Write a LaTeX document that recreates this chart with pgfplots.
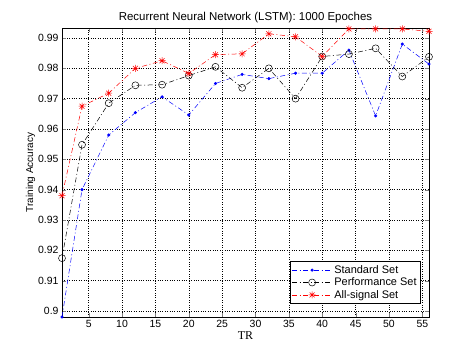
\documentclass[border=0pt]{standalone}
\usepackage{fontspec}
\setmainfont{Liberation Sans}
\newfontfamily\serifx{Liberation Serif}
\usepackage{pgfplots}
\pgfplotsset{compat=1.18}
\pgfdeclareplotmark{star8}{%
  \pgfpathmoveto{\pgfqpoint{-\pgfplotmarksize}{0pt}}\pgfpathlineto{\pgfqpoint{\pgfplotmarksize}{0pt}}%
  \pgfpathmoveto{\pgfqpoint{0pt}{-\pgfplotmarksize}}\pgfpathlineto{\pgfqpoint{0pt}{\pgfplotmarksize}}%
  \pgfpathmoveto{\pgfqpoint{-0.707\pgfplotmarksize}{-0.707\pgfplotmarksize}}\pgfpathlineto{\pgfqpoint{0.707\pgfplotmarksize}{0.707\pgfplotmarksize}}%
  \pgfpathmoveto{\pgfqpoint{-0.707\pgfplotmarksize}{0.707\pgfplotmarksize}}\pgfpathlineto{\pgfqpoint{0.707\pgfplotmarksize}{-0.707\pgfplotmarksize}}%
  \pgfusepathqstroke}
\begin{document}
\begin{tikzpicture}[x=1bp,y=1bp]
\begin{axis}[
  scale only axis,
  width=367bp, height=289bp,
  xmin=1, xmax=56, ymin=0.898, ymax=0.9933,
  xtick={5,10,...,55},
  ytick={0.9,0.91,...,0.99},
  yticklabels={0.9,0.91,0.92,0.93,0.94,0.95,0.96,0.97,0.98,0.99},
  /pgf/number format/assume math mode=true,
  tick label style={font=\fontsize{10.5}{12}\selectfont},
  tick align=inside,
  tick pos=both,
  major tick length=4bp,
  grid=major,
  major grid style={black, dotted, line width=0.5pt},
  axis line style={black, line width=0.7pt},
  title={Recurrent Neural Network (LSTM): 1000 Epoches},
  title style={font=\fontsize{11.5}{13}\selectfont, yshift=-4bp},
  xlabel={\serifx TR},
  xlabel style={font=\fontsize{12}{14}\selectfont, yshift=3bp},
  ylabel={Training Accuracy},
  ylabel style={font=\fontsize{10}{12}\selectfont, yshift=-4bp},
  legend style={at={(0.978,0.045)}, anchor=south east, draw=black, line width=0.7pt,
    font=\fontsize{11}{12}\selectfont, row sep=-1bp, inner sep=2bp},
  legend cell align=left,
  legend image code/.code={%
    \draw[mark repeat=2, mark phase=2, #1] plot coordinates {(0bp,0bp) (20bp,0bp) (40bp,0bp)};},
  every axis plot/.append style={line width=0.5pt, dash pattern=on 5bp off 2.5bp on 1bp off 2.5bp},
]
\addplot[blue, mark=*, mark size=1.3bp, mark options={solid}] coordinates {
(1,0.898) (4,0.940) (8,0.958) (12,0.9654) (16,0.9706) (20,0.9646) (24,0.975)
(28,0.978) (32,0.9766) (36,0.9784) (40,0.9784) (44,0.986) (48,0.9643) (52,0.988) (56,0.9814)};
\addlegendentry{Standard Set}
\addplot[black, mark=o, mark size=3.5bp, mark options={solid}] coordinates {
(1,0.9174) (4,0.9548) (8,0.9685) (12,0.9744) (16,0.9746) (20,0.9776) (24,0.9805)
(28,0.9736) (32,0.980) (36,0.970) (40,0.9839) (44,0.9847) (48,0.9866) (52,0.9773) (56,0.9838)};
\addlegendentry{Performance Set}
\addplot[red, mark=star8, mark size=3.5bp, mark options={solid}] coordinates {
(1,0.938) (4,0.9675) (8,0.9718) (12,0.980) (16,0.9825) (20,0.9783) (24,0.9845)
(28,0.9848) (32,0.9914) (36,0.9904) (40,0.9839) (44,0.993) (48,0.993) (52,0.993) (56,0.9922)};
\addlegendentry{All-signal Set}
\end{axis}
\pgfresetboundingbox
\path ([xshift=-62bp,yshift=-39bp]current axis.south west) rectangle ([xshift=45bp,yshift=28bp]current axis.north east);
\end{tikzpicture}
\end{document}
